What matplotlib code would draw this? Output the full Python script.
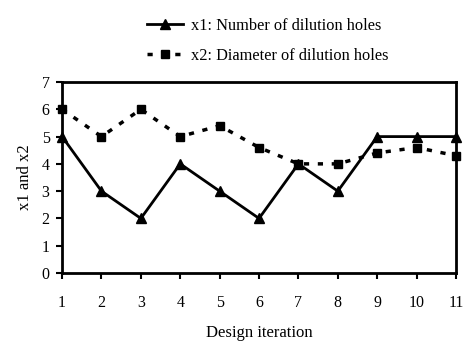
import matplotlib
matplotlib.use("Agg")
import matplotlib.pyplot as plt

iterations = [1, 2, 3, 4, 5, 6, 7, 8, 9, 10, 11]
x1_values = [5, 3, 2, 4, 3, 2, 4, 3, 5, 5, 5]
x2_values = [6, 5, 6, 5, 5.4, 4.6, 4.0, 4.0, 4.4, 4.6, 4.3]
y_ticks = [0, 1, 2, 3, 4, 5, 6, 7]

plt.rcParams['font.family'] = ['Liberation Serif', 'DejaVu Serif']

fig = plt.figure(figsize=(4.74, 3.63), dpi=100)
ax = fig.add_axes([0.131, 0.248, 0.831, 0.526])

l1, = ax.plot(iterations, x1_values, color='black', lw=2, marker='^', markersize=7,
              label='x1: Number of dilution holes', clip_on=False, zorder=3)
l2, = ax.plot(iterations, x2_values, color='black', lw=2.5, ls=(0, (1.5, 2.5)), marker='s',
              markersize=6, label='x2: Diameter of dilution holes', clip_on=False, zorder=3)

ax.set_xlim(1, 11)
ax.set_ylim(0, 7)
ax.set_xticks(iterations)
ax.set_yticks(y_ticks)
ax.tick_params(direction='out', length=4, width=1.5, labelsize=11.5, color='black')
ax.tick_params(axis='x', pad=12)
ax.tick_params(axis='y', pad=5)
for s in ax.spines.values():
    s.set_linewidth(2)
ax.set_xlabel('Design iteration', fontsize=12, labelpad=10)
ax.set_ylabel('x1 and x2', fontsize=12, labelpad=6)

fig.legend(handles=[l1, l2], loc='upper left', bbox_to_anchor=(0.279, 0.992), frameon=False,
           fontsize=11.8, handlelength=2.2, handletextpad=0.5, labelspacing=0.85)

fig.savefig('out.png', dpi=100)
